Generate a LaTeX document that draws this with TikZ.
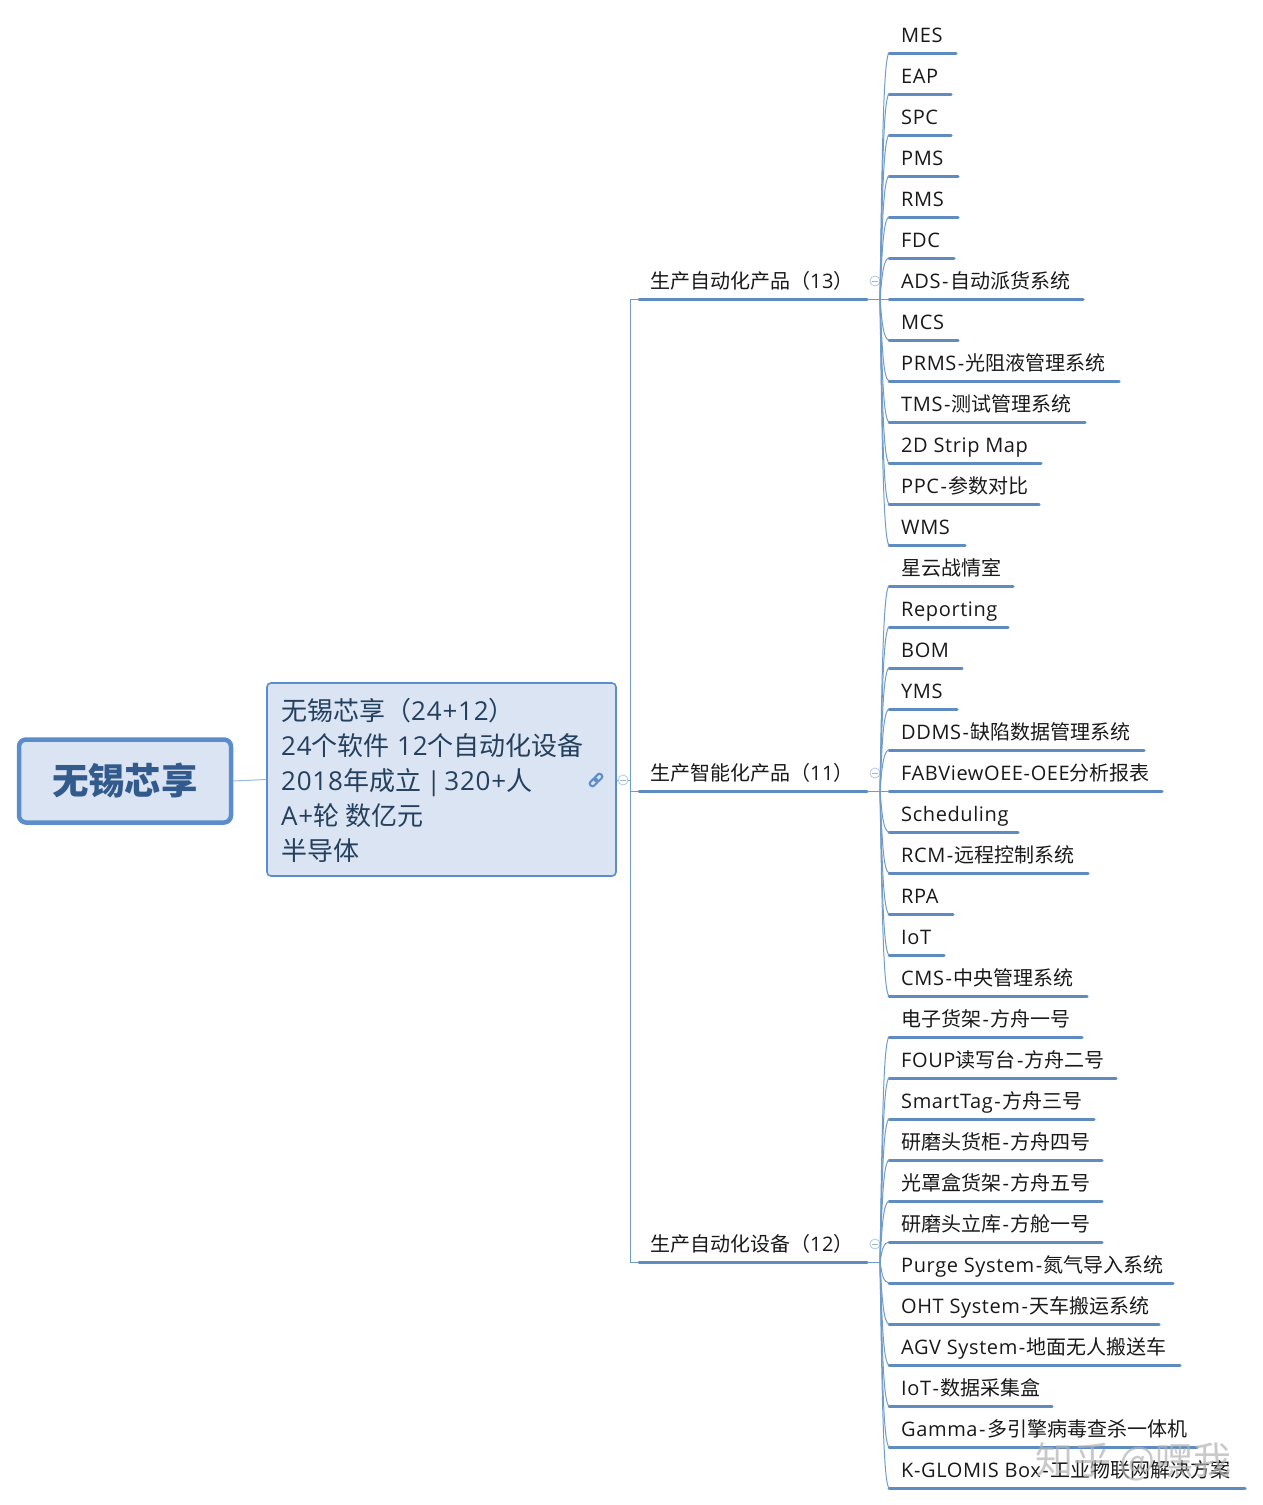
\documentclass[tikz,border=0pt]{standalone}
\usepackage{fontspec}
\setmainfont[LetterSpace=3]{Open Sans}
\newfontfamily\cjk{Noto Sans CJK SC}
\newcommand{\zh}[1]{{\cjk #1}}
\newcommand{\hy}{\kern1.5pt-\kern1.5pt}
\definecolor{rulec}{HTML}{5F8CC0}
\definecolor{thinc}{HTML}{6F9BCB}
\definecolor{boxfill}{HTML}{DBE4F2}
\definecolor{rootline}{HTML}{5B8CCB}
\definecolor{maintxt}{HTML}{24405F}
\definecolor{roottxt}{HTML}{335A8C}
\tikzset{
  x=1pt,y=-1pt,
  itemtext/.style={anchor=base west,inner sep=0pt,font=\fontsize{20}{24}\selectfont,text=black!90},
  parenttext/.style={anchor=base west,inner sep=0pt,font=\fontsize{20}{24}\selectfont,text=black!90},
  itemrule/.style={draw=rulec,line width=3pt,line cap=round},
  twig/.style={draw=thinc,line width=1pt},
  trunk/.style={draw=thinc,line width=1pt},
  rootbox/.style={draw=rootline,fill=boxfill,line width=4.5pt,rounded corners=7pt,minimum width=212pt,minimum height=83pt,inner sep=0pt,text=roottxt,font=\fontsize{36.5}{40}\selectfont\cjk\bfseries},
  mainbox/.style={draw=rootline,fill=boxfill,line width=1.6pt,rounded corners=4pt,minimum width=349pt,minimum height=193pt,inner sep=0pt},
  maintext/.style={anchor=north west,inner sep=0pt,align=left,text=maintxt,font=\fontsize{26}{35}\selectfont},
  collapse/.style={circle,draw=thinc!60,fill=white,line width=.7pt,minimum size=10pt,inner sep=0pt,path picture={\draw[thinc!70,line width=.7pt] ([xshift=-3pt]path picture bounding box.center) -- ([xshift=3pt]path picture bounding box.center);}},
  linkpart/.style={draw=rootline,line width=2pt,rounded corners=2pt}
}
\begin{document}
\begin{tikzpicture}
\useasboundingbox (0,0) rectangle (1263,1505);
\node[rootbox] (root) at (125,781) {无锡芯享};
\node[mainbox] (main) at (441.5,779.5) {};
\node[maintext] (maintx) at (281,698) {\zh{无锡芯享（}24+12\zh{）}\\24\zh{个软件} 12\zh{个自动化设备}\\2018\zh{年成立}\kern-2pt{} |\kern-4pt{} 320+\zh{人}\\A+\zh{轮 数亿元}\\\zh{半导体}};
\draw[draw=thinc!70,line width=1pt] (root.east) -- (main.west);
% link icon
\begin{scope}[shift={(596,780)},rotate=45]
  \draw[linkpart] (-7.5,-2.6) rectangle (1,2.6);
  \draw[linkpart] (-1,-2.6) rectangle (7.5,2.6);
\end{scope}
\coordinate (hub) at (630,780);
\coordinate (p1a) at (639,299);
\coordinate (p1b) at (867,299);
\coordinate (p2a) at (639,791);
\coordinate (p2b) at (867,791);
\coordinate (p3a) at (639,1262);
\coordinate (p3b) at (867,1262);
\coordinate (j1) at (880,299);
\coordinate (j2) at (880,791);
\coordinate (j3) at (880,1262);
\node[parenttext] (p1) at (650,288.5) {\zh{生产自动化产品（}13\zh{）}};
\node[parenttext] (p2) at (650,780.5) {\zh{生产智能化产品（}11\zh{）}};
\node[parenttext] (p3) at (650,1251.5) {\zh{生产自动化设备（}12\zh{）}};
\draw[trunk] (main.east |- hub) -- (hub);
\draw[trunk] (p1a) -- (630,299) -- (630,1262) -- (p3a);
\draw[trunk] (630,791) -- (p2a);
\foreach \a/\b/\j in {p1a/p1b/j1,p2a/p2b/j2,p3a/p3b/j3}{
  \draw[itemrule] (\a) -- (\b);
  \draw[twig] (\b) -- (\j);
}
\node[collapse] (c0) at (623,780) {};
\node[collapse] (c1) at (875,281) {};
\node[collapse] (c2) at (875,773) {};
\node[collapse] (c3) at (875,1244) {};
% leaves: junction / rule end x / label
\foreach \j/\jv/\e/\t [count=\k from 0] in {
 j1/299/956/MES, j1/299/951/EAP, j1/299/951/SPC, j1/299/958/PMS, j1/299/958/RMS, j1/299/954/FDC,
 j1/299/1083/ADS\hy\zh{自动派货系统}, j1/299/958/MCS, j1/299/1119/PRMS\hy\zh{光阻液管理系统},
 j1/299/1085/TMS\hy\zh{测试管理系统}, j1/299/1041/2D Strip Map, j1/299/1039/PPC\hy\zh{参数对比}, j1/299/965/WMS,
 j2/791/1013/\zh{星云战情室}, j2/791/1008/Reporting, j2/791/962/BOM, j2/791/957/YMS,
 j2/791/1144/DDMS\hy\zh{缺陷数据管理系统}, j2/791/1162/FABViewOEE-OEE\zh{分析报表}, j2/791/1018/Scheduling,
 j2/791/1088/RCM\hy\zh{远程控制系统}, j2/791/953/RPA, j2/791/944/IoT, j2/791/1087/CMS\hy\zh{中央管理系统},
 j3/1262/1082/\zh{电子货架}\hy\zh{方舟一号}, j3/1262/1116/FOUP\zh{读写台}\hy\zh{方舟二号}, j3/1262/1094/SmartTag\hy\zh{方舟三号},
 j3/1262/1102/\zh{研磨头货柜}\hy\zh{方舟四号}, j3/1262/1102/\zh{光罩盒货架}\hy\zh{方舟五号}, j3/1262/1102/\zh{研磨头立库}\hy\zh{方舱一号},
 j3/1262/1173/Purge System\hy\zh{氮气导入系统}, j3/1262/1159/OHT System\hy\zh{天车搬运系统},
 j3/1262/1180/AGV System\hy\zh{地面无人搬送车}, j3/1262/1052/IoT\hy\zh{数据采集盒},
 j3/1262/1197/Gamma\hy\zh{多引擎病毒查杀一体机}, j3/1262/1245/K-GLOMIS Box\hy\zh{工业物联网解决方案}}{
  \pgfmathsetmacro\ry{53+41*\k}
  \pgfmathsetmacro\by{42+41*\k}
  \node[itemtext] (i\k) at (901,\by) {\t};
  \coordinate (ra\k) at (889,\ry);
  \coordinate (rb\k) at (\e,\ry);
  \draw[itemrule] (ra\k) -- (rb\k);
  \pgfmathsetmacro\dy{\ry-\jv}
  \ifdim\dy pt=0pt
    \draw[twig] (\j) -- (ra\k);
  \else
    \draw[twig] (\j) .. controls (882,\jv+.6*\dy) and (883.5,\ry-.02*\dy) .. (ra\k);
  \fi
}
\node[inner sep=0pt,anchor=base west,opacity=.7,text=black!30,font=\fontsize{38}{40}\selectfont\cjk] (wm) at (1035,1474) {知乎 @嘿我};
\end{tikzpicture}
\end{document}
